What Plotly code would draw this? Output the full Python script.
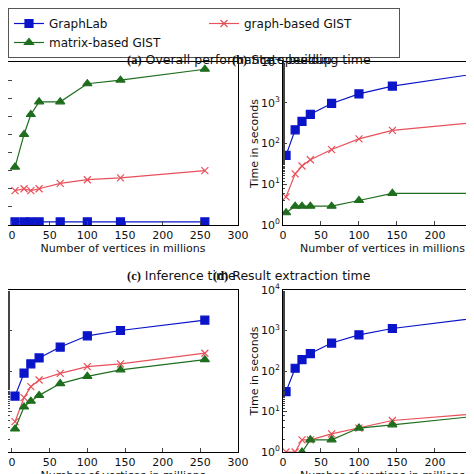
import plotly.graph_objects as go

x = [4, 16, 25, 36, 64, 100, 144, 256]
names = ["GraphLab", "graph-based GIST", "matrix-based GIST"]

a_graphlab = [0.17] * 8
a_graph = [1.9, 2.0, 1.9, 2.0, 2.3, 2.5, 2.6, 3.0]
a_matrix = [3.2, 5.0, 6.1, 6.8, 6.8, 7.8, 8.0, 8.6]

b_graphlab = [51, 217, 350, 520, 960, 1650, 2570, 5200]
b_graph = [4.9, 18, 28, 40, 71, 130, 210, 330]
b_matrix = [2, 2.9, 2.9, 2.9, 2.9, 4, 6, 6]

c_graphlab = [24, 89, 150, 210, 390, 740, 1000, 1800]
c_graph = [5.6, 22, 41, 60, 87, 128, 150, 275]
c_matrix = [3.7, 13, 18, 25, 49, 74, 107, 190]

d_graphlab = [31, 117, 190, 270, 490, 780, 1120, 2050]
d_graph = [1, 1, 2, 2, 2.8, 3.9, 6, 8.8]
d_matrix = [0.5, 0.5, 1, 2, 2, 3.9, 4.7, 7.7]

titles = ["(a)|Overall performance speedup", "(b)|State building time",
          "(c)|Inference time", "(d)|Result extraction time"]

colors = ["#0a14c8", "#e8505a", "#1e6e1e"]
symbols = ["square", "x-thin", "triangle-up"]
msizes = [8, 7, 8]

fig = go.Figure()
panels = [
    ("x", "y", [a_graphlab, a_graph, a_matrix]),
    ("x2", "y2", [b_graphlab, b_graph, b_matrix]),
    ("x3", "y3", [c_graphlab, c_graph, c_matrix]),
    ("x4", "y4", [d_graphlab, d_graph, d_matrix]),
]
for pi, (xa, ya, series) in enumerate(panels):
    for si, ys in enumerate(series):
        fig.add_trace(go.Scatter(
            x=x, y=ys, xaxis=xa, yaxis=ya, mode="lines+markers",
            name=names[si], showlegend=(pi == 0),
            line=dict(color=colors[si], width=1.2),
            marker=dict(symbol=symbols[si], size=msizes[si], color=colors[si],
                        line=dict(color=colors[si], width=1.2)),
            cliponaxis=True))

W = 474
lx = [0.0, 230 / W]
rx = [275 / W, 1.0]
top_y = [1 - 217 / W, 1 - 54 / W]
bot_y = [1 - 444 / W, 1 - 282 / W]

axfont = dict(family="DejaVu Sans", size=11, color="#111")
common_x = dict(showgrid=False, zeroline=False, showline=True, mirror=True,
                linecolor="black", linewidth=1, ticks="inside", ticklen=4,
                tickfont=axfont, dtick=50, automargin=False)
common_y = dict(showgrid=False, zeroline=False, showline=True, mirror=True,
                linecolor="black", linewidth=1, ticks="inside", ticklen=4,
                tickfont=axfont, automargin=False)
xt = dict(text="Number of vertices in millions", font=dict(family="DejaVu Sans", size=11, color="#111"), standoff=0)

logticks = dict(type="log", range=[0, 4], tickvals=[1, 10, 100, 1000, 10000],
                ticktext=["10<sup>0</sup>", "10<sup>1</sup>", "10<sup>2</sup>", "10<sup>3</sup>", "10<sup>4</sup>"],
                minor=dict(ticks="inside", ticklen=2, showgrid=False))
ytitle = dict(text="Time in seconds", font=dict(family="DejaVu Sans", size=11, color="#111"), standoff=0)

fig.update_layout(
    width=W, height=W, paper_bgcolor="white", plot_bgcolor="white",
    margin=dict(l=0, r=0, t=0, b=0, autoexpand=False),
    xaxis=dict(common_x, domain=lx, range=[-5.3, 300], anchor="y", title=xt),
    yaxis=dict(common_y, domain=top_y, range=[0, 9], dtick=1, showticklabels=False, anchor="x"),
    xaxis2=dict(common_x, domain=rx, range=[0, 262], anchor="y2", title=xt),
    yaxis2=dict(common_y, domain=top_y, anchor="x2", title=ytitle, **logticks),
    xaxis3=dict(common_x, domain=lx, range=[-5.3, 300], anchor="y3", title=xt),
    yaxis3=dict(common_y, domain=bot_y, showticklabels=False, anchor="x3", **logticks),
    xaxis4=dict(common_x, domain=rx, range=[0, 262], anchor="y4", title=xt),
    yaxis4=dict(common_y, domain=bot_y, anchor="x4", title=ytitle, **logticks),
    legend=dict(orientation="h", x=0.0, y=1.0, xanchor="left", yanchor="top",
                bordercolor="#555", borderwidth=1, bgcolor="white",
                font=dict(family="DejaVu Sans", size=12, color="#111"),
                entrywidth=150, entrywidthmode="pixels", itemwidth=30,
                tracegroupgap=0),
)

centers = [(117, 42), (365, 42), (117, 267), (365, 267)]
for (cx, cy), t in zip(centers, titles):
    tag, txt = t.split("|")
    fig.add_annotation(xref="paper", yref="paper", x=cx / W, y=1 - cy / W,
                       text=f"<b><span style='font-family:Liberation Serif'>{tag}</span></b> {txt}",
                       showarrow=False, font=dict(family="DejaVu Sans", size=12.5, color="#111"))

fig.write_html("out.html")
